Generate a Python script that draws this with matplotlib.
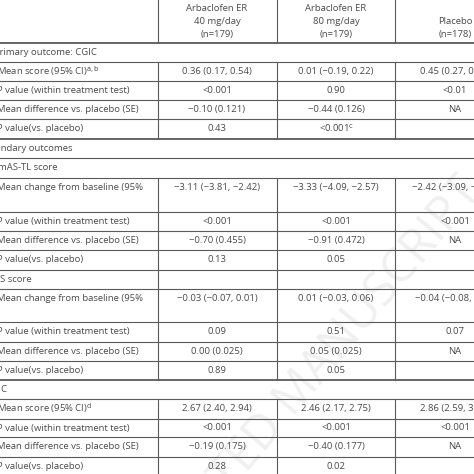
import matplotlib
matplotlib.use("Agg")
import matplotlib.pyplot as plt

plt.rcParams["font.family"] = ["Open Sans", "DejaVu Sans"]

# table content (left column is cropped in the source image)
HEAD_ARB40 = ["Arbaclofen ER", "40 mg/day", "(n=179)"]
HEAD_ARB80 = ["Arbaclofen ER", "80 mg/day", "(n=179)"]
HEAD_PLAC = ["Placebo", "(n=178)"]

ROW_LABELS = ["Primary outcome: CGIC",
              "Mean score (95% CI)$^{\\rm a,b}$",
              "P value (within treatment test)",
              "Mean difference vs. placebo (SE)",
              "P value(vs. placebo)",
              "Secondary outcomes",
              "mAS-TL score",
              "Mean change from baseline (95%",
              "P value (within treatment test)",
              "Mean difference vs. placebo (SE)",
              "P value(vs. placebo)",
              "S score",
              "Mean change from baseline (95%",
              "P value (within treatment test)",
              "Mean difference vs. placebo (SE)",
              "P value(vs. placebo)",
              "C",
              "Mean score (95% CI)$^{\\rm d}$",
              "P value (within treatment test)",
              "Mean difference vs. placebo (SE)",
              "P value(vs. placebo)"]
ARB40 = ["", "0.36 (0.17, 0.54)", "<0.001", "\u22120.10 (0.121)", "0.43",
         "", "", "\u22123.11 (\u22123.81, \u22122.42)", "<0.001", "\u22120.70 (0.455)", "0.13",
         "", "\u22120.03 (\u22120.07, 0.01)", "0.09", "0.00 (0.025)", "0.89",
         "", "2.67 (2.40, 2.94)", "<0.001", "\u22120.19 (0.175)", "0.28"]
ARB80 = ["", "0.01 (\u22120.19, 0.22)", "0.90", "\u22120.44 (0.126)", "<0.001$^{\\rm c}$",
         "", "", "\u22123.33 (\u22124.09, \u22122.57)", "<0.001", "\u22120.91 (0.472)", "0.05",
         "", "0.01 (\u22120.03, 0.06)", "0.51", "0.05 (0.025)", "0.05",
         "", "2.46 (2.17, 2.75)", "<0.001", "\u22120.40 (0.177)", "0.02"]
PLAC = ["", "0.45 (0.27, 0.64)", "<0.01", "NA", "",
        "", "", "\u22122.42 (\u22123.09, \u22121.75)", "<0.001", "NA", "",
        "", "\u22120.04 (\u22120.08, 0.01)", "0.07", "NA", "",
        "", "2.86 (2.59, 3.13)", "<0.001", "NA", ""]
SECTION = [True, False, False, False, False, True, True, False, False, False, False,
           False, False, False, False, False, True, False, False, False, False]

# layout in pixels
ROW_EDGES = [43, 62, 81, 100, 119, 139, 158, 178, 212, 231, 250, 270, 289,
             322, 342, 361, 380, 399, 419, 437, 457, 476]
COL_X = [158, 277, 395]
CENTERS = [217, 336, 455]
LABEL_X = [-6, -3, -3, -3, -3, -20, -2, -3, -3, -3, -3, 0, -3, -3, -3, -3, 0,
           -3, -3, -3, -3]
INK = "#4a4a4a"
LINE = "#5a5a5a"

fig = plt.figure(figsize=(4.74, 4.74), dpi=100)
ax = fig.add_axes([0, 0, 1, 1])
ax.set_xlim(0, 474); ax.set_ylim(474, 0); ax.axis("off")

ax.text(300, 390, "ACCEPTED MANUSCRIPT", rotation=50, fontsize=34,
        color="#f0f0f0", ha="center", va="center", zorder=0)

fs = 6.8
for lines, cx in [(HEAD_ARB40, CENTERS[0]), (HEAD_ARB80, CENTERS[1])]:
    for k, t in enumerate(lines):
        ax.text(cx, 8 + 13 * k, t, ha="center", va="center", fontsize=fs, color=INK)
for k, t in enumerate(HEAD_PLAC):
    ax.text(CENTERS[2], 21 + 13 * k, t, ha="center", va="center", fontsize=fs, color=INK)
for x in COL_X:
    ax.plot([x, x], [0, ROW_EDGES[0]], color=LINE, lw=0.8)

for i, lab in enumerate(ROW_LABELS):
    y0, y1 = ROW_EDGES[i], ROW_EDGES[i + 1]
    yc = (y0 + min(y1, y0 + 19)) / 2
    ax.text(LABEL_X[i], yc, lab, ha="left", va="center", fontsize=fs, color=INK)
    for cx, col in zip(CENTERS, [ARB40, ARB80, PLAC]):
        if col[i]:
            ax.text(cx, yc, col[i], ha="center", va="center", fontsize=fs, color=INK)
    if not SECTION[i]:
        for x in COL_X:
            ax.plot([x, x], [y0, y1], color=LINE, lw=0.8)

for y in ROW_EDGES[:-1]:
    heavy = y in (43, 139, 380)
    ax.plot([0, 474], [y, y], color=LINE, lw=1.3 if heavy else 0.8)

fig.savefig("out.png", dpi=100)
